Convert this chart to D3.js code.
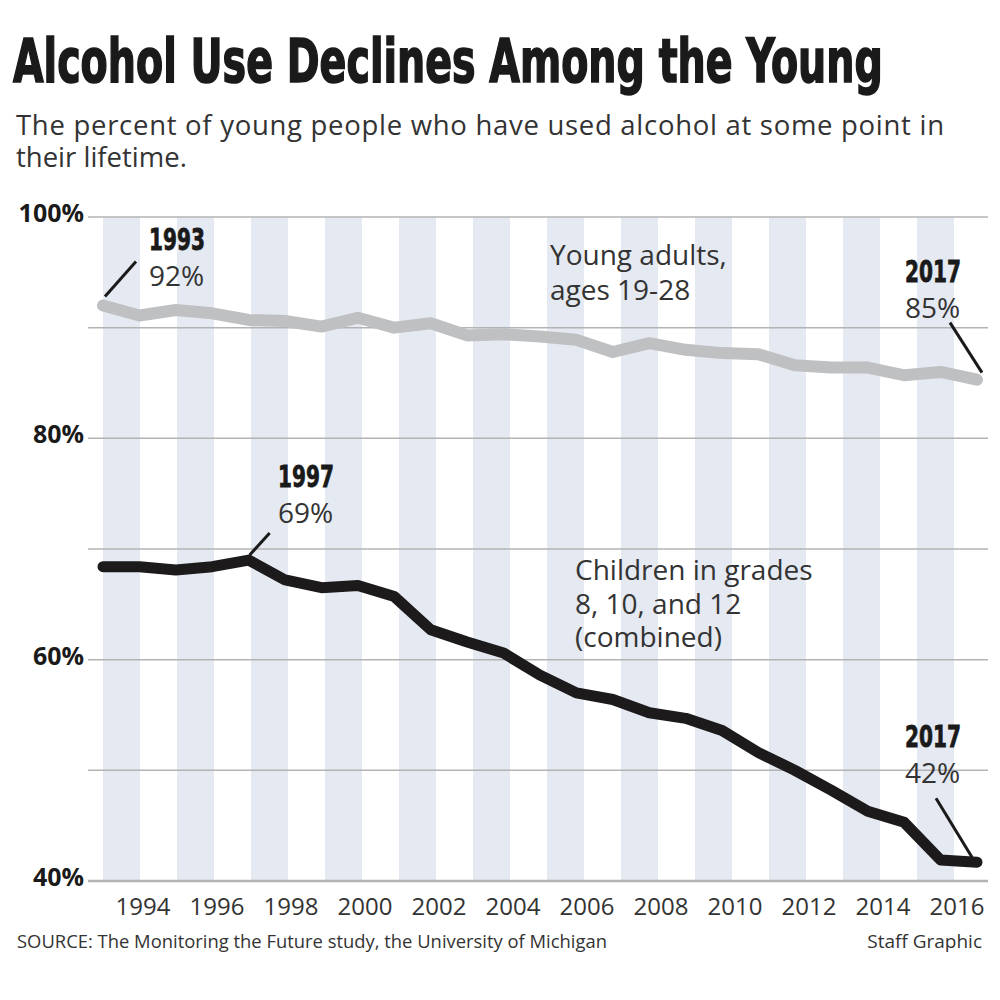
<!DOCTYPE html>
<html>
<head>
<meta charset="utf-8">
<script src="https://cdn.jsdelivr.net/npm/d3@7/dist/d3.min.js"></script>
<style>
  body { margin: 0; background: #fff; }
  svg { display: block; }
  .cond { font-family: "Liberation Sans Narrow", "DejaVu Sans Condensed", "Arial Narrow", sans-serif; }
  .sans { font-family: "Open Sans", "Noto Sans", sans-serif; }
</style>
</head>
<body>
<div id="chart"></div>
<script>
// Data
const years = d3.range(1993, 2018);
const youngAdults = [92.0, 91.1, 91.6, 91.3, 90.7, 90.6, 90.1, 90.9, 90.0, 90.4, 89.3, 89.4,
  89.2, 88.9, 87.8, 88.6, 88.0, 87.7, 87.6, 86.6, 86.4, 86.4, 85.7, 86.0, 85.3];
const children = [68.4, 68.4, 68.1, 68.4, 69.0, 67.2, 66.5, 66.7, 65.7, 62.7, 61.6, 60.6,
  58.6, 57.0, 56.4, 55.2, 54.7, 53.6, 51.6, 50.0, 48.2, 46.3, 45.3, 41.9, 41.7];
const yTicks = [40, 60, 80, 100];
const gridValues = [40, 50, 60, 70, 80, 90, 100];
const xTickYears = d3.range(1994, 2017, 2);
const bandYears = d3.range(1993, 2016, 2);

const W = 1000, H = 1000;
const svg = d3.select('#chart').append('svg').attr('width', W).attr('height', H);

// Scales
const x = d3.scaleLinear().domain([1993, 2017]).range([103, 977]);
const xb = d3.scaleLinear().domain([1993, 2017]).range([103, 991]);
const y = d3.scaleLinear().domain([40, 100]).range([881, 217]);

// squeeze a text horizontally to a target width
function squeeze(sel, tx, ty, width) {
  const len = sel.node().getComputedTextLength();
  sel.attr('transform', `translate(${tx},${ty}) scale(${width / len},1)`);
}

// Title + subtitle
const title = svg.append('text').attr('class', 'cond')
  .style('font-size', '60px').style('font-weight', 'bold')
  .attr('fill', '#1a1a1a').attr('stroke', '#1a1a1a').attr('stroke-width', 1.6)
  .text('Alcohol Use Declines Among the Young');
squeeze(title, 13, 82, 870);

const sub = svg.append('text').attr('class', 'sans')
  .style('font-size', '27.5px').attr('fill', '#333');
sub.append('tspan').attr('x', 16).attr('y', 135)
  .attr('textLength', 928).attr('lengthAdjust', 'spacing')
  .text('The percent of young people who have used alcohol at some point in');
sub.append('tspan').attr('x', 16).attr('y', 167).text('their lifetime.');

// Alternating year bands
svg.append('g').selectAll('rect')
  .data(bandYears).join('rect')
  .attr('x', d => xb(d))
  .attr('width', d => xb(d + 1) - xb(d))
  .attr('y', y(100))
  .attr('height', y(40) - y(100))
  .attr('fill', '#e5e9f2');

// Gridlines
svg.append('g').selectAll('line')
  .data(gridValues).join('line')
  .attr('x1', 88).attr('x2', 988)
  .attr('y1', d => y(d)).attr('y2', d => y(d))
  .attr('stroke', '#b3b3b3')
  .attr('stroke-width', d => d === 40 ? 2.5 : 1.5);

// Y labels
svg.append('g').selectAll('text')
  .data(yTicks).join('text')
  .attr('class', 'sans')
  .attr('x', 84).attr('y', d => y(d) + 5)
  .attr('text-anchor', 'end')
  .style('font-size', '25px').style('font-weight', 'bold')
  .attr('fill', '#1a1a1a')
  .text(d => d + '%');

// X labels
svg.append('g').selectAll('text')
  .data(xTickYears).join('text')
  .attr('class', 'sans')
  .attr('x', d => xb(d) + 3).attr('y', 915)
  .attr('text-anchor', 'middle')
  .style('font-size', '24px')
  .attr('fill', '#333')
  .text(d => d);

// Lines
const line = d3.line().x((d, i) => x(years[i])).y(d => y(d));

svg.append('path').datum(youngAdults)
  .attr('d', line).attr('fill', 'none')
  .attr('stroke', '#bfc0c2').attr('stroke-width', 12)
  .attr('stroke-linejoin', 'round').attr('stroke-linecap', 'round');

svg.append('path').datum(children)
  .attr('d', line).attr('fill', 'none')
  .attr('stroke', '#1c1a1a').attr('stroke-width', 11)
  .attr('stroke-linejoin', 'round').attr('stroke-linecap', 'round');

// Annotations
function note(yearText, pctText, tx, ty) {
  const yt = svg.append('text').attr('class', 'cond')
    .style('font-size', '31px').style('font-weight', 'bold')
    .attr('fill', '#1a1a1a').attr('stroke', '#1a1a1a').attr('stroke-width', 0.8)
    .text(yearText);
  squeeze(yt, tx, ty, 56);
  svg.append('text').attr('class', 'sans')
    .attr('x', tx).attr('y', ty + 36)
    .style('font-size', '28px').attr('fill', '#333')
    .text(pctText);
}
function leader(x1, y1, x2, y2) {
  svg.append('line')
    .attr('x1', x1).attr('y1', y1).attr('x2', x2).attr('y2', y2)
    .attr('stroke', '#1a1a1a').attr('stroke-width', 3);
}

note('1993', '92%', 149, 250);
leader(x(1993) + 2, y(youngAdults[0]) - 9, x(1993) + 33, y(youngAdults[0]) - 44);

note('1997', '69%', 278, 487);
leader(x(1997) + 1, y(children[4]) - 5, x(1997) + 21, y(children[4]) - 27);

note('2017', '85%', 905, 282);
leader(x(2017) + 5, y(youngAdults[24]) - 7, x(2017) - 27, y(youngAdults[24]) - 57);

note('2017', '42%', 905, 747);
leader(x(2017) - 5, y(children[24]) - 5, x(2017) - 41, y(children[24]) - 64);

// Series labels
const ya = svg.append('text').attr('class', 'sans').style('font-size', '28px').attr('fill', '#333');
ya.append('tspan').attr('x', 550).attr('y', 265).text('Young adults,');
ya.append('tspan').attr('x', 550).attr('y', 300).text('ages 19-28');

const ch = svg.append('text').attr('class', 'sans').style('font-size', '28px').attr('fill', '#333');
ch.append('tspan').attr('x', 575).attr('y', 580).text('Children in grades');
ch.append('tspan').attr('x', 575).attr('y', 614).text('8, 10, and 12');
ch.append('tspan').attr('x', 575).attr('y', 647).text('(combined)');

// Footer
svg.append('text').attr('class', 'sans')
  .attr('x', 17).attr('y', 948)
  .attr('textLength', 590).attr('lengthAdjust', 'spacingAndGlyphs')
  .style('font-size', '19px').attr('fill', '#333')
  .text('SOURCE: The Monitoring the Future study, the University of Michigan');
svg.append('text').attr('class', 'sans')
  .attr('x', 982).attr('y', 948).attr('text-anchor', 'end')
  .style('font-size', '19px').attr('fill', '#333')
  .text('Staff Graphic');
</script>
</body>
</html>
